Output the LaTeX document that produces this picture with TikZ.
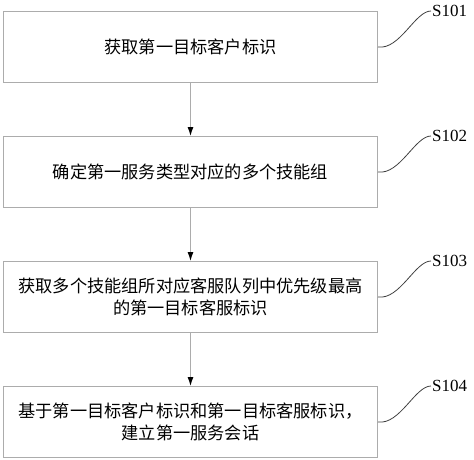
\documentclass[tikz,border=0pt]{standalone}
\usepackage{fontspec}
\setmainfont{Liberation Serif}
\newfontfamily\cjk{Noto Sans CJK SC}
\usetikzlibrary{arrows.meta,positioning}

\begin{document}
\begin{tikzpicture}[x=1pt,
            y=-1pt,
            node distance=53pt,
            box/.style={draw=gray!65, line width=1pt, minimum width=374pt,
                        minimum height=71pt, inner sep=0pt, align=center,
                        font=\cjk\fontsize{17.2}{22}\selectfont},
            tag/.style={font=\fontsize{17}{20}\selectfont, inner sep=1pt},
            flow/.style={draw=gray!65, line width=1pt,
                         -{Latex[black,length=9pt,width=6pt]}},
            link/.style={draw=black!75, line width=0.8pt}]

        \useasboundingbox (0,0) rectangle (474,460);

        \node[box] (s1) at (190.5,47) {获取第一目标客户标识};
        \node[box] (s2) [below=of s1] {确定第一服务类型对应的多个技能组};
        \node[box] (s3) [below=of s2] {获取多个技能组所对应客服队列中优先级最高\\的第一目标客服标识};
        \node[box] (s4) [below=of s3] {基于第一目标客户标识和第一目标客服标识，\\建立第一服务会话};

        \foreach \i in {1,...,4} {
            \node[tag, anchor=west] (t\i) at ([xshift=53pt]s\i.north east) {S10\i};
            \draw[link] (s\i.east) .. controls +(22,3) and +(-16,0) .. (t\i.west);
        }

        \draw[flow] (s1) -- (s2);
        \draw[flow] (s2) -- (s3);
        \draw[flow] (s3) -- (s4);

    \end{tikzpicture}
\end{document}
